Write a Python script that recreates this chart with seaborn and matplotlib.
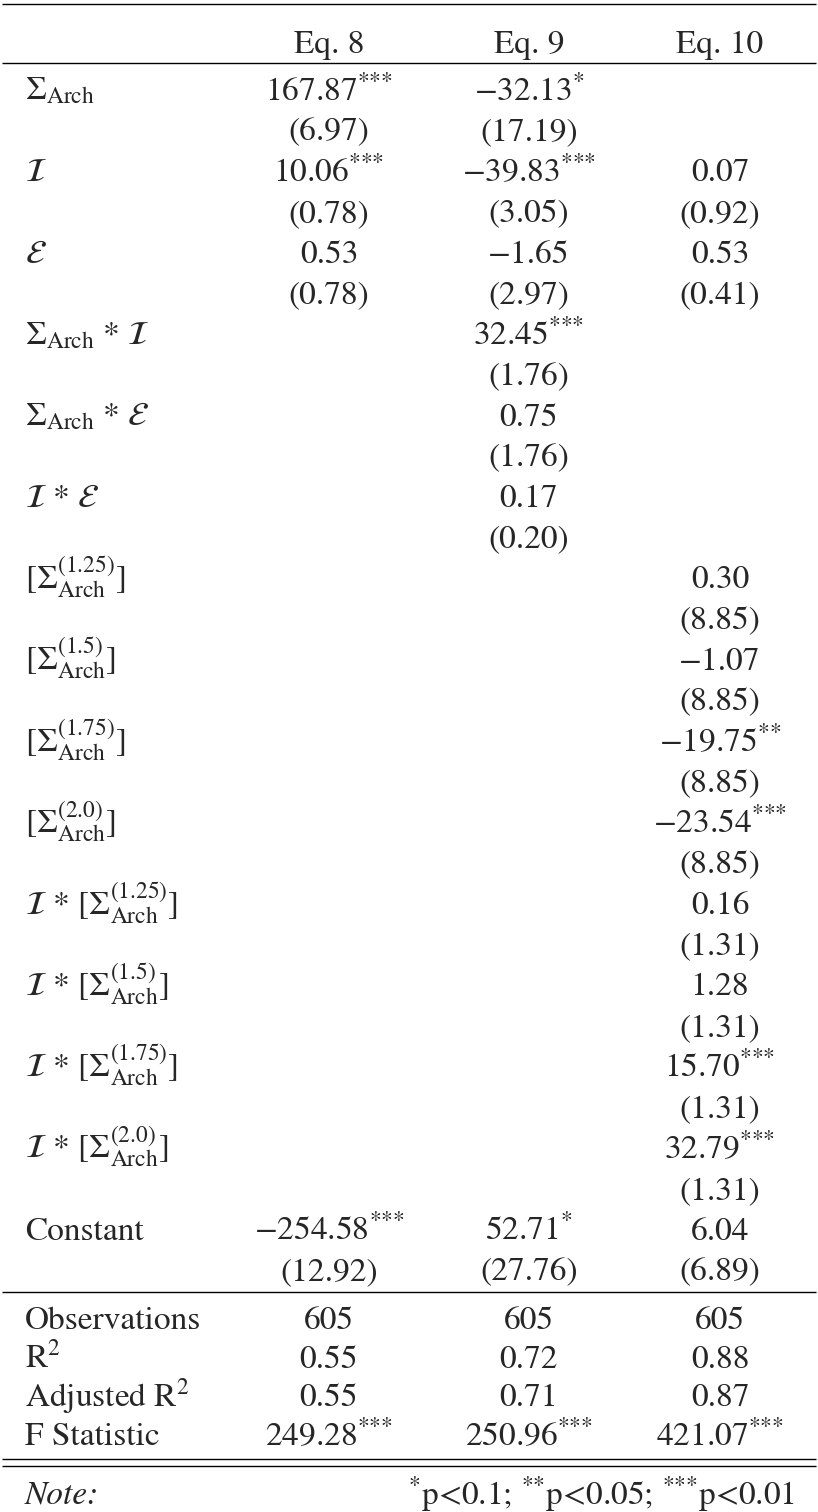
import matplotlib
matplotlib.use('Agg')
import matplotlib.pyplot as plt
import seaborn as sns

# Regression table values
columns = ['Eq. 8', 'Eq. 9', 'Eq. 10']
variables = [
    r'$\Sigma_{\mathrm{Arch}}$',
    r'$\mathcal{I}$',
    r'$\mathcal{E}$',
    r'$\Sigma_{\mathrm{Arch}}$ * $\mathcal{I}$',
    r'$\Sigma_{\mathrm{Arch}}$ * $\mathcal{E}$',
    r'$\mathcal{I}$ * $\mathcal{E}$',
    r'$[\Sigma^{(1.25)}_{\mathrm{Arch}}]$',
    r'$[\Sigma^{(1.5)}_{\mathrm{Arch}}]$',
    r'$[\Sigma^{(1.75)}_{\mathrm{Arch}}]$',
    r'$[\Sigma^{(2.0)}_{\mathrm{Arch}}]$',
    r'$\mathcal{I}$ * $[\Sigma^{(1.25)}_{\mathrm{Arch}}]$',
    r'$\mathcal{I}$ * $[\Sigma^{(1.5)}_{\mathrm{Arch}}]$',
    r'$\mathcal{I}$ * $[\Sigma^{(1.75)}_{\mathrm{Arch}}]$',
    r'$\mathcal{I}$ * $[\Sigma^{(2.0)}_{\mathrm{Arch}}]$',
    'Constant',
]
eq8_coef = [167.87, 10.06, 0.53, None, None, None, None, None, None, None, None, None, None, None, -254.58]
eq8_se = [6.97, 0.78, 0.78, None, None, None, None, None, None, None, None, None, None, None, 12.92]
eq8_stars = [3, 3, 0, 0, 0, 0, 0, 0, 0, 0, 0, 0, 0, 0, 3]
eq9_coef = [-32.13, -39.83, -1.65, 32.45, 0.75, 0.17, None, None, None, None, None, None, None, None, 52.71]
eq9_se = [17.19, 3.05, 2.97, 1.76, 1.76, 0.20, None, None, None, None, None, None, None, None, 27.76]
eq9_stars = [1, 3, 0, 3, 0, 0, 0, 0, 0, 0, 0, 0, 0, 0, 1]
eq10_coef = [None, 0.07, 0.53, None, None, None, 0.30, -1.07, -19.75, -23.54, 0.16, 1.28, 15.70, 32.79, 6.04]
eq10_se = [None, 0.92, 0.41, None, None, None, 8.85, 8.85, 8.85, 8.85, 1.31, 1.31, 1.31, 1.31, 6.89]
eq10_stars = [0, 0, 0, 0, 0, 0, 0, 0, 2, 3, 0, 0, 3, 3, 0]

stat_labels = ['Observations', r'R$^{2}$', r'Adjusted R$^{2}$', 'F Statistic']
observations = [605, 605, 605]
r2 = [0.55, 0.72, 0.88]
adj_r2 = [0.55, 0.71, 0.87]
f_stat = [249.28, 250.96, 421.07]
f_stars = [3, 3, 3]

note_label = 'Note:'
note_levels = ['0.1', '0.05', '0.01']

sns.set_theme(style='white')
plt.rcParams['font.family'] = ['STIXGeneral', 'DejaVu Sans']
plt.rcParams['mathtext.fontset'] = 'stix'
plt.rcParams['mathtext.default'] = 'regular'

FS = 24.0
W, H = 818, 1512


def star_str(n):
    return '$^{' + '{*}' * n + '}$' if n else ''


def fmt(v, stars=0):
    return f'{v:.2f}'.replace('-', '\u2212') + star_str(stars)


fig = plt.figure(figsize=(W / 100, H / 100), dpi=100)
ax = fig.add_axes([0, 0, 1, 1])
ax.set_xlim(0, W)
ax.set_ylim(H, 0)
ax.axis('off')
sns.despine(ax=ax, left=True, bottom=True)

label_x = 25
col_x = [329, 529, 720]
header_y = 53
first_y = 100
pitch = 40.7

# rules
for y in [3.5, 62.5, 1292, 1459, 1466]:
    ax.plot([2, 816], [y, y], color='black', lw=1.0, solid_capstyle='butt')

# header
for cx, name in zip(col_x, columns):
    ax.text(cx, header_y, name, ha='center', va='baseline', fontsize=FS)

# coefficients and standard errors
coefs = [eq8_coef, eq9_coef, eq10_coef]
ses = [eq8_se, eq9_se, eq10_se]
stars = [eq8_stars, eq9_stars, eq10_stars]
for i, lab in enumerate(variables):
    y = first_y + 2 * i * pitch
    ax.text(label_x, y, lab, ha='left', va='baseline', fontsize=FS)
    for cx, c, s, st in zip(col_x, coefs, ses, stars):
        if c[i] is not None:
            ax.text(cx, y, fmt(c[i], st[i]), ha='center', va='baseline', fontsize=FS)
        if s[i] is not None:
            ax.text(cx, y + pitch, '(' + fmt(s[i]) + ')', ha='center', va='baseline', fontsize=FS)

# summary statistics
stat_rows = [
    [str(v) for v in observations],
    [fmt(v) for v in r2],
    [fmt(v) for v in adj_r2],
    [fmt(v, s) for v, s in zip(f_stat, f_stars)],
]
stat_y = 1329
stat_pitch = 38.7
for j, (lab, row) in enumerate(zip(stat_labels, stat_rows)):
    y = stat_y + j * stat_pitch
    ax.text(label_x, y, lab, ha='left', va='baseline', fontsize=FS)
    for cx, val in zip(col_x, row):
        ax.text(cx, y, val, ha='center', va='baseline', fontsize=FS)

# note
note_text = '; '.join(star_str(k + 1) + 'p<' + lv for k, lv in enumerate(note_levels))
ax.text(label_x, 1504, note_label, ha='left', va='baseline', fontsize=FS, fontstyle='italic')
ax.text(795, 1504, note_text, ha='right', va='baseline', fontsize=FS)

fig.savefig('out.png', dpi=100)
